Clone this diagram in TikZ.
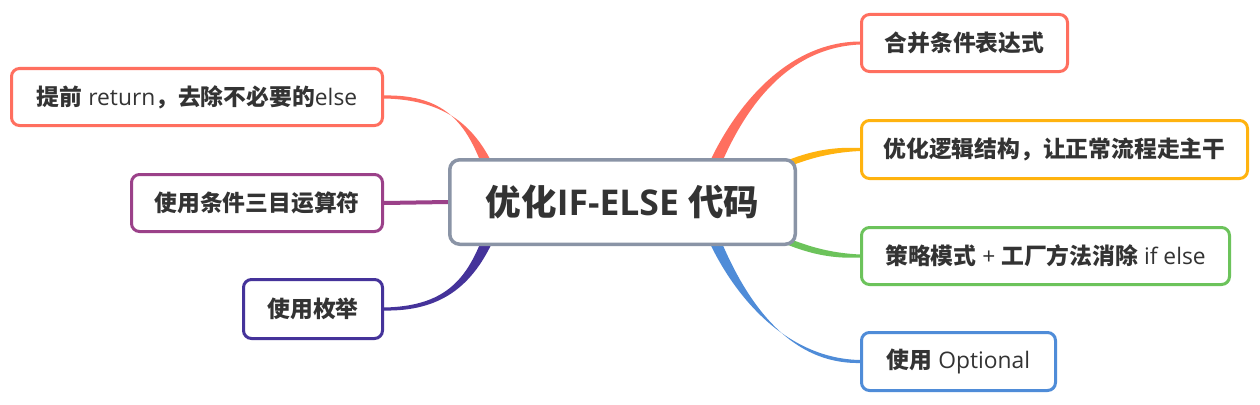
\documentclass[tikz,border=0pt]{standalone}
\usepackage{fontspec}
\setmainfont{Open Sans}
\newfontfamily\cjk{Noto Sans CJK SC}
\usetikzlibrary{calc}
\definecolor{cred}{HTML}{FF6F5F}
\definecolor{corange}{HTML}{FFB30F}
\definecolor{cgreen}{HTML}{6CC35B}
\definecolor{cblue}{HTML}{4F8CD8}
\definecolor{cpurple}{HTML}{9B4189}
\definecolor{cindigo}{HTML}{45339A}
\definecolor{cgray}{HTML}{8A94A6}
\definecolor{ctext}{HTML}{333333}
\newcommand\zh[1]{{\cjk\bfseries #1}}
% tapered branch: #1 colour, #2 start coord, #3 c1 offset from start, #4 c2 offset from end, #5 end coord, #6 start half-width vector
\newcommand\branch[6]{%
  \fill[#1] ($(#2)-(#6)$) .. controls ($(#2)+(#3)-(#6)$) and ($(#5)+(#4)+(0,-3)$) .. ($(#5)+(0,-1.5)$)
     -- ($(#5)+(0,1.5)$) .. controls ($(#5)+(#4)+(0,3)$) and ($(#2)+(#3)+(#6)$) .. ($(#2)+(#6)$) -- cycle;}
\begin{document}
\begin{tikzpicture}[x=1pt,y=-1pt,
  box/.style={draw, line width=3pt, rounded corners=8pt, fill=white, inner sep=0pt,
    text=ctext, font=\fontsize{22.8}{26}\selectfont},
  root/.style={draw=cgray, line width=3.5pt, rounded corners=10pt, fill=white, inner sep=0pt,
    text=ctext, font=\fontsize{35.5}{40}\selectfont\bfseries}]
\useasboundingbox[fill=white] (0,0) rectangle (1260,404);
% node placeholders for anchors (drawn later on top)
\path
  (622.5,202) node[root, minimum width=345.5pt, minimum height=84.5pt, text opacity=0, draw opacity=0, fill opacity=0] (c) {}
  (197,97) node[box, minimum width=371pt, minimum height=57pt, draw opacity=0, fill opacity=0] (l1) {}
  (257,203) node[box, minimum width=251pt, minimum height=57pt, draw opacity=0, fill opacity=0] (l2) {}
  (313,309) node[box, minimum width=139pt, minimum height=59pt, draw opacity=0, fill opacity=0] (l3) {}
  (964.5,43) node[box, minimum width=206pt, minimum height=57pt, draw opacity=0, fill opacity=0] (r1) {}
  (1054.5,149.5) node[box, minimum width=386pt, minimum height=58pt, draw opacity=0, fill opacity=0] (r2) {}
  (1045.5,256) node[box, minimum width=368pt, minimum height=57pt, draw opacity=0, fill opacity=0] (r3) {}
  (958.5,361.5) node[box, minimum width=194pt, minimum height=58pt, draw opacity=0, fill opacity=0] (r4) {};
% branch start points inside the root
\coordinate (sTR) at ($(c.center)+(82,-12)$);
\coordinate (sTL) at ($(c.center)+(-122,-2)$);
\coordinate (sBL) at ($(c.center)+(-122,3)$);
\coordinate (sBR) at ($(c.center)+(82,13)$);
\coordinate (sOR) at ($(c.center)+(140,-27)$);
\coordinate (sGR) at ($(c.center)+(140,28)$);
% connectors
\branch{cred}{sTR}{25,-70}{-80,2}{r1.west}{6.5,0}
\branch{cred}{sTL}{-20,-60}{76,0}{l1.east}{6.5,0}
\branch{cindigo}{sBL}{-20,60}{76,0}{l3.east}{6.5,0}
\branch{cblue}{sBR}{25,70}{-80,0}{r4.west}{6.5,0}
\branch{corange}{sOR}{40,-20}{-30,0}{r2.west}{0,3.5}
\branch{cgreen}{sGR}{40,20}{-30,0}{r3.west}{0,3.5}
\draw[cpurple, line width=4pt] (c.west) -- (l2.east);
% nodes
\node[root, minimum width=345.5pt, minimum height=84.5pt] at (c.center) {\zh{优化}IF-ELSE \zh{代码}};
\node[box, draw=cred, minimum width=371pt, minimum height=57pt] at (l1.center) {\zh{提前} return\zh{，去除不必要的}else};
\node[box, draw=cpurple, minimum width=251pt, minimum height=57pt] at (l2.center) {\zh{使用条件三目运算符}};
\node[box, draw=cindigo, minimum width=139pt, minimum height=59pt] at (l3.center) {\zh{使用枚举}};
\node[box, draw=cred, minimum width=206pt, minimum height=57pt] at (r1.center) {\zh{合并条件表达式}};
\node[box, draw=corange, minimum width=386pt, minimum height=58pt] at (r2.center) {\zh{优化逻辑结构，让正常流程走主干}};
\node[box, draw=cgreen, minimum width=368pt, minimum height=57pt] at (r3.center) {\zh{策略模式} + \zh{工厂方法消除} if else};
\node[box, draw=cblue, minimum width=194pt, minimum height=58pt] at (r4.center) {\zh{使用} Optional};
\end{tikzpicture}
\end{document}
